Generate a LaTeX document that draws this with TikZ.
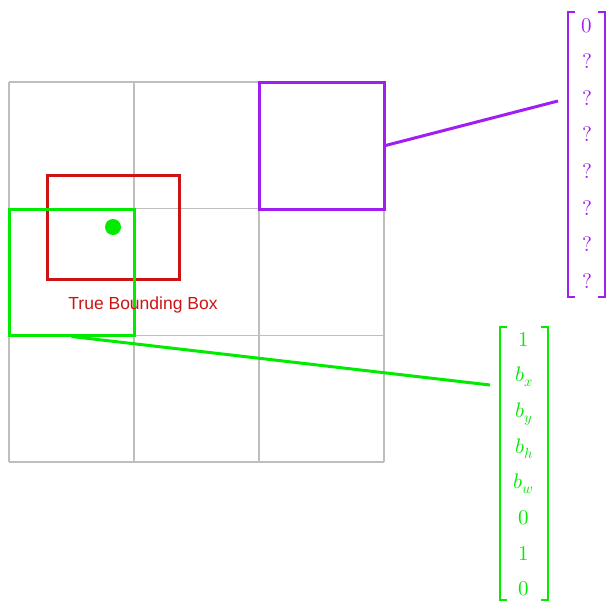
\documentclass[tikz,border=0pt]{standalone}
\usepackage{fontspec}
\usepackage{unicode-math}
\setsansfont{Liberation Sans}
\definecolor{cellgray}{RGB}{190,190,190}
\definecolor{boxred}{RGB}{204,20,20}
\definecolor{boxgreen}{RGB}{0,235,0}
\definecolor{boxpurple}{RGB}{160,30,240}
\tikzset{
  cellline/.style={cellgray, line width=1.5pt},
  cellbox/.style={draw, line width=3pt, inner sep=0pt, minimum width=125pt, minimum height=127pt},
  ventry/.style={anchor=base, inner sep=0pt, font=\fontsize{21}{24}\selectfont},
  bracketline/.style={line width=2.8pt},
}
\begin{document}
\begin{tikzpicture}[x=1pt,y=-1pt]
            \useasboundingbox (0,0) rectangle (613,611);
            \foreach \x in {9,134,259,384}{
              \draw[cellline] (\x,82) -- (\x,462);
            }
            \foreach \y in {82,208.7,335.3,462}{
              \draw[cellline] (9,\y) -- (384,\y);
            }
            \node[cellbox, boxpurple] (pbox) at (321.5,145.5) {};
            \node[cellbox, boxred, minimum width=132pt, minimum height=104pt] (tbox) at (113,227) {};
            \node[cellbox, boxgreen, minimum height=126pt] (gbox) at (71.5,272) {};
            \node[circle, fill=boxgreen, inner sep=0pt, minimum size=16pt] (mid) at (tbox.center) {};
            \node[boxred, font=\sffamily\fontsize{17.5}{20}\selectfont, anchor=base, inner sep=0pt] (tlabel) at (143,309) {True Bounding Box};
            % purple vector
            \foreach \t [count=\i] in {0,?,?,?,?,?,?,?}{
              \node[ventry, boxpurple] (p\i) at (587,{32+36.6*(\i-1)}) {$\t$};
            }
            \draw[bracketline, boxpurple] (575,12) -| (568,297) -- (575,297);
            \draw[bracketline, boxpurple] (598,12) -| (605,297) -- (598,297);
            \coordinate (pend) at (558,101);
            \draw[boxpurple, line width=3pt] (pbox.east) -- (pend);
            % green vector
            \foreach \t [count=\i] in {1,b_x,b_y,b_h,b_w,0,1,0}{
              \node[ventry, boxgreen] (g\i) at (524,{346+35.7*(\i-1)}) {$\t$};
            }
            \draw[bracketline, boxgreen] (507,327) -| (500,600) -- (507,600);
            \draw[bracketline, boxgreen] (541,327) -| (548,600) -- (541,600);
            \coordinate (gend) at (490,385);
            \draw[boxgreen, line width=3pt] (gbox.south) -- (gend);
          \end{tikzpicture}
\end{document}
